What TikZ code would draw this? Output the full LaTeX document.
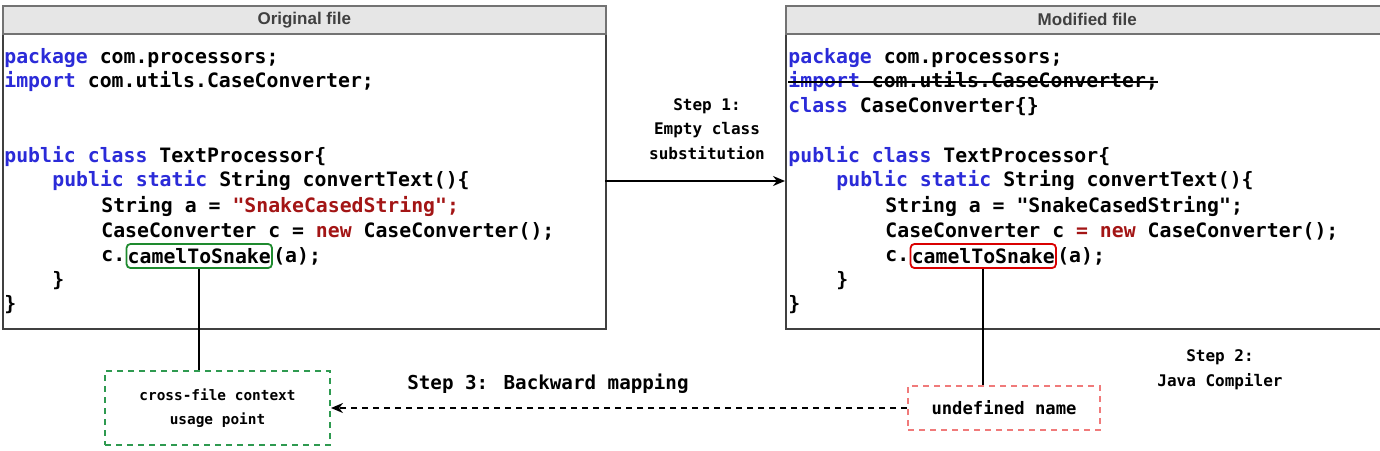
\documentclass[tikz,border=0pt]{standalone}
\usepackage{fontspec}
\setmainfont{Liberation Sans}
\newfontfamily\codefont{DejaVu Sans Mono}
\usetikzlibrary{positioning,arrows.meta}
\definecolor{kwblue}{HTML}{2B2BD8}
\definecolor{strred}{HTML}{A31515}
\definecolor{hdrgray}{HTML}{E6E6E6}
\definecolor{okgreen}{HTML}{1E8A2E}
\definecolor{boxgreen}{HTML}{2E9A50}
\definecolor{boxred}{HTML}{F07A7A}
\newcommand{\kw}[1]{\textcolor{kwblue}{#1}}
\newcommand{\st}[1]{\textcolor{strred}{#1}}
\tikzset{
  panel/.style={draw=black!75, line width=0.8pt, minimum width=301.5pt, minimum height=147.5pt, anchor=north west, inner sep=0pt},
  header/.style={draw=black!55, fill=hdrgray, line width=0.8pt, minimum width=301.5pt, minimum height=14pt, anchor=north west, inner sep=0pt,
    font=\fontsize{8.5}{10}\selectfont\bfseries, text=black!75},
  codeline/.style={anchor=west, inner sep=0pt, font=\codefont\bfseries\fontsize{9.9}{12}\selectfont},
  hitbox/.style={codeline, draw, line width=0.9pt, rounded corners=2pt, inner xsep=0.6pt, inner ysep=2.2pt},
  steplabel/.style={align=center, inner sep=0pt, font=\codefont\bfseries\fontsize{8}{12.4}\selectfont},
  pointbox/.style={draw, line width=1pt, dash pattern=on 3pt off 2.5pt, align=center, inner sep=0pt,
    font=\codefont\bfseries\fontsize{7.2}{12}\selectfont}
}
\begin{document}
\begin{tikzpicture}[x=0.5pt,y=-0.5pt]
\useasboundingbox (0,0) rectangle (1380,450);
% original file
\node[panel] (orig) at (2,33) {};
\node[header] (origh) at (2,5) {Original file};
\node[codeline] (o1) at (4,58) {\kw{package} com.processors;};
\node[codeline] (o2) at (4,82) {\kw{import} com.utils.CaseConverter;};
\node[codeline] (o3) at (4,157) {\kw{public} \kw{class} TextProcessor\{};
\node[codeline] (o4) at (52,181) {\kw{public} \kw{static} String convertText()\{};
\node[codeline] (o5) at (101,206) {String a = \st{"SnakeCasedString";}};
\node[codeline] (o6) at (101,231) {CaseConverter c = \st{new} CaseConverter();};
\node[codeline] (o7) at (101,256) {c.};
\node[hitbox, draw=okgreen, right=0pt of o7] (useg) {camelToSnake};
\node[codeline, right=0pt of useg] (o7b) {(a);};
\node[codeline] (o8) at (52,281) {\}};
\node[codeline] (o9) at (4,305) {\}};
% modified file
\node[panel] (mod) at (785,33) {};
\node[header] (modh) at (785,5) {Modified file};
\node[codeline] (m1) at (788,58) {\kw{package} com.processors;};
\node[codeline] (m2) at (788,82) {\kw{import} com.utils.CaseConverter;};
\draw[line width=1pt] (m2.west) -- (m2.east);
\node[codeline] (m3) at (788,107) {\kw{class} CaseConverter\{\}};
\node[codeline] (m4) at (788,157) {\kw{public} \kw{class} TextProcessor\{};
\node[codeline] (m5) at (836,181) {\kw{public} \kw{static} String convertText()\{};
\node[codeline] (m6) at (885,206) {String a = "SnakeCasedString";};
\node[codeline] (m7) at (885,231) {CaseConverter c \st{= new} CaseConverter();};
\node[codeline] (m8) at (885,256) {c.};
\node[hitbox, draw=red!85!black, right=0pt of m8] (useu) {camelToSnake};
\node[codeline, right=0pt of useu] (m8b) {(a);};
\node[codeline] (m9) at (836,281) {\}};
\node[codeline] (m10) at (788,305) {\}};
% steps
\coordinate (a1) at (605,181);
\coordinate (b1) at (785,181);
\draw[-{Stealth[length=6pt,width=5pt]}, line width=0.9pt] (a1) -- (b1);
\node[steplabel] (s1) at (707,129) {Step 1:\\Empty class\\substitution};
\node[steplabel] (s2) at (1220,370) {Step 2:\\Java Compiler};
\node[pointbox, draw=boxgreen, minimum width=112.5pt, minimum height=37pt] (ctx) at (217.5,408) {cross-file context\\usage point};
\node[pointbox, draw=boxred, minimum width=96pt, minimum height=22pt,
  font=\codefont\bfseries\fontsize{8.6}{12}\selectfont] (undef) at (1004,408) {undefined name};
\draw[line width=0.9pt] (useg.south) -- (useg.south |- ctx.north);
\draw[line width=0.9pt] (useu.south) -- (useu.south |- undef.north);
\draw[dash pattern=on 3pt off 2.5pt, line width=1pt, -{Stealth[length=6pt,width=5pt]}] (undef) -- (ctx);
\node[steplabel, font=\codefont\bfseries\fontsize{9.6}{12}\selectfont] (s3) at (548,384) {Step 3: Backward mapping};
\end{tikzpicture}
\end{document}
